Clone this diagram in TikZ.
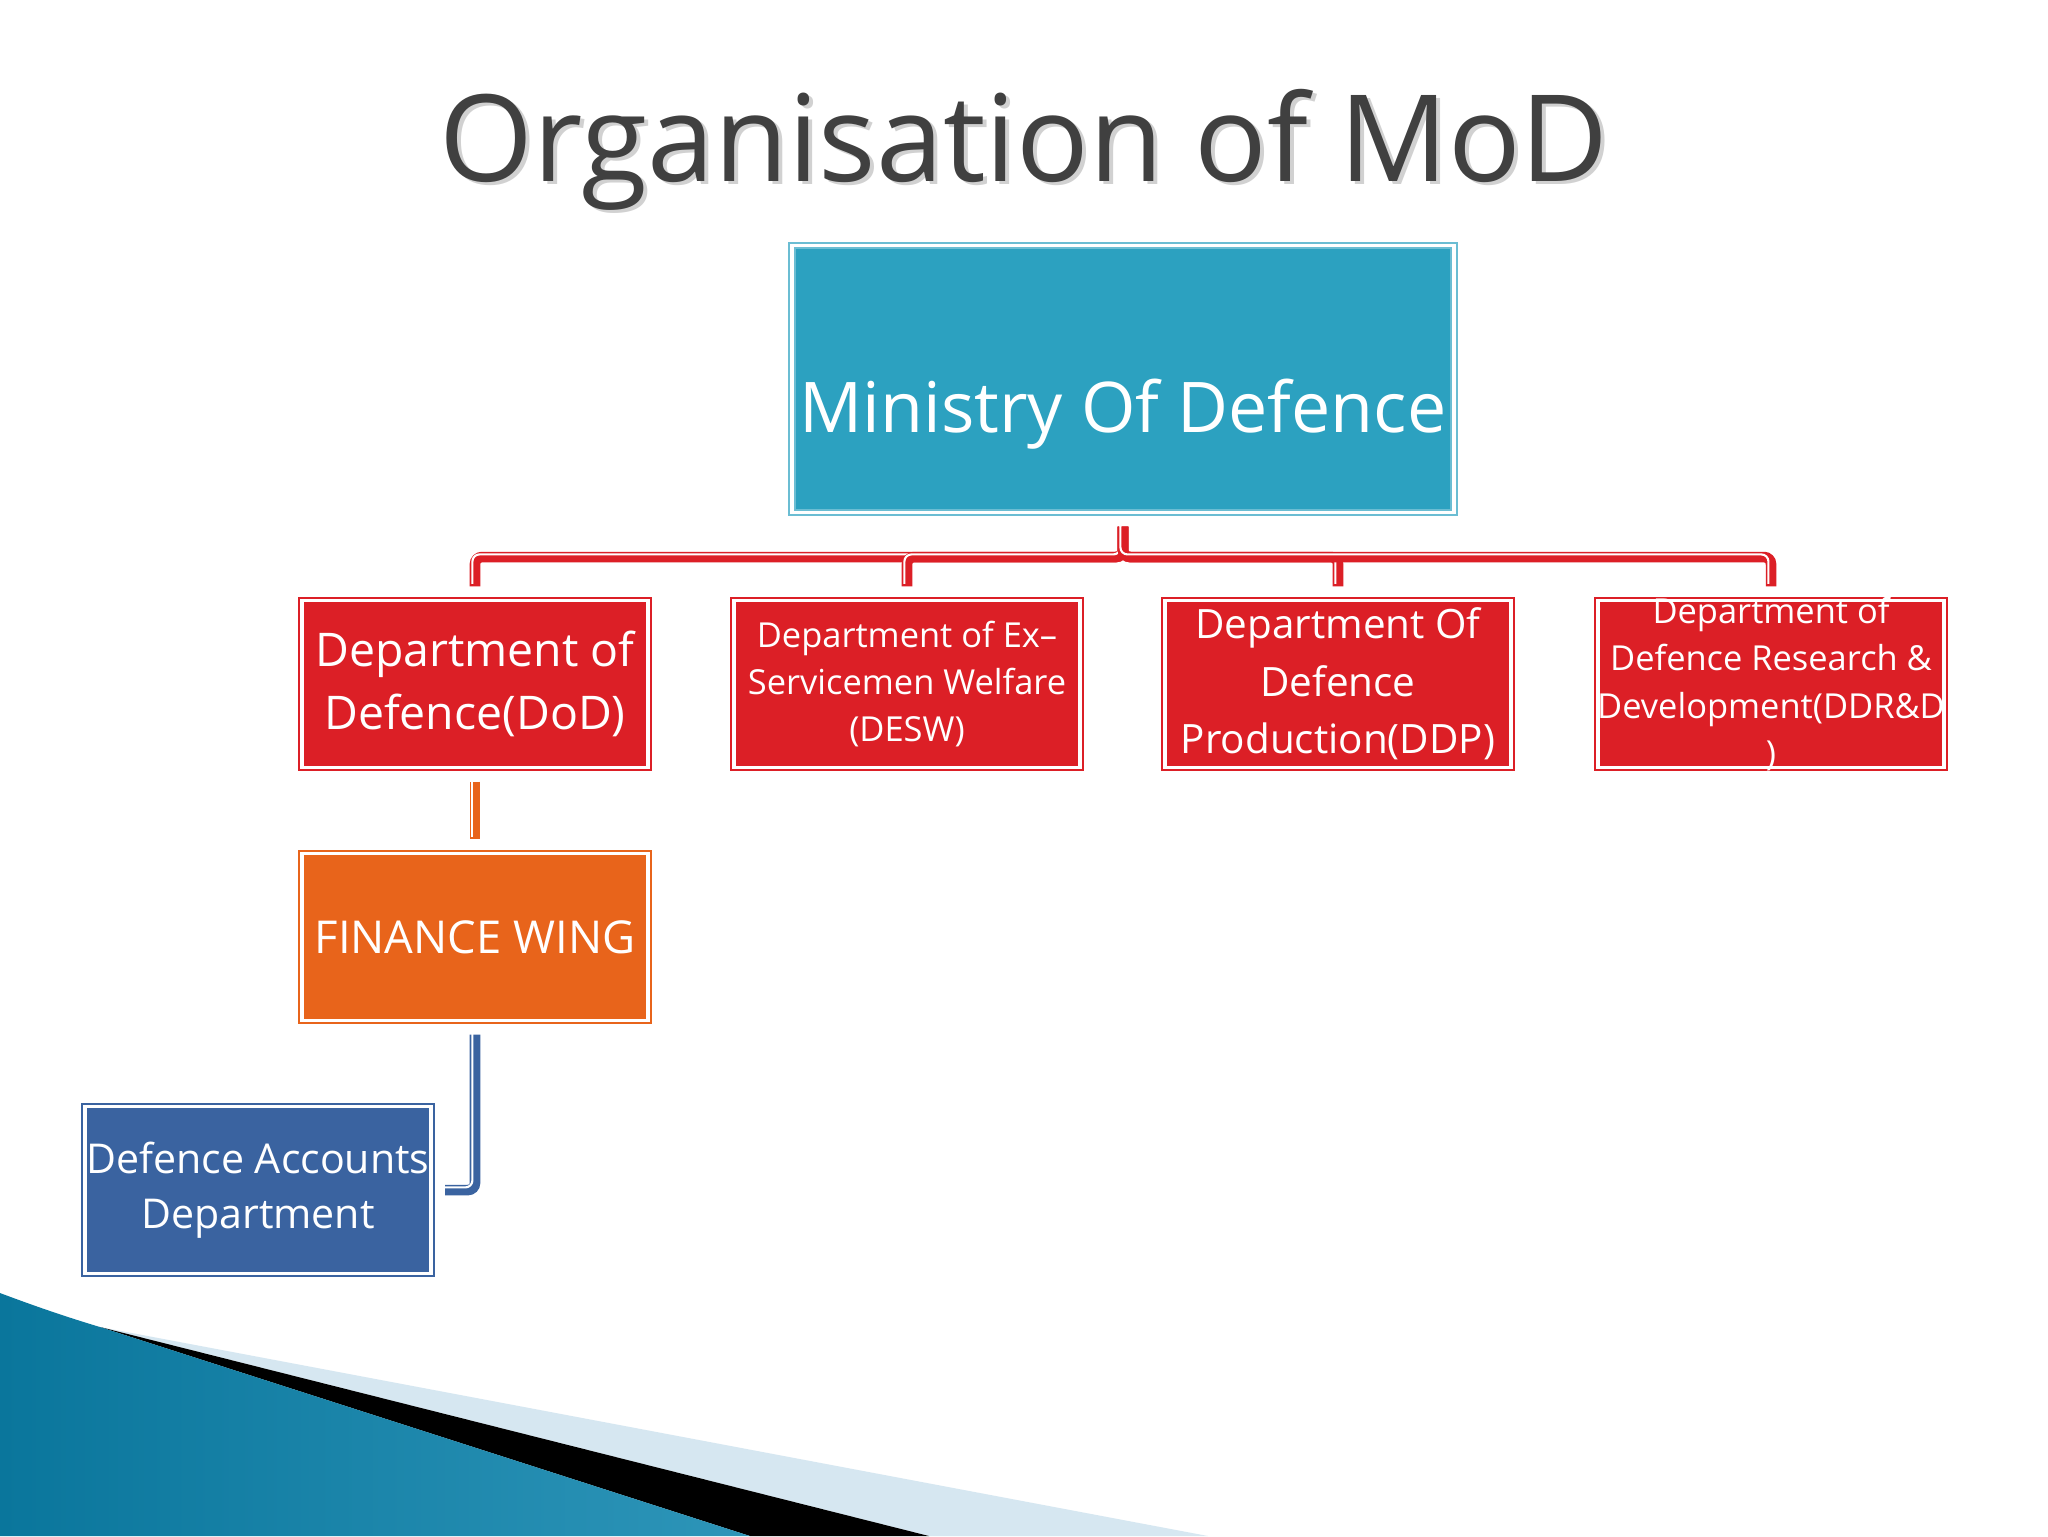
\documentclass[tikz,border=0pt]{standalone}
\usepackage{fontspec}
\setmainfont{Open Sans}
\usepackage{xcolor}
\usepackage{tikz}

\definecolor{modteal}{RGB}{44,161,192}
\definecolor{dodred}{RGB}{220,31,38}
\definecolor{finorange}{RGB}{232,100,27}
\definecolor{accblue}{RGB}{58,99,160}
\definecolor{wavedark}{RGB}{10,118,156}
\definecolor{wavelight}{RGB}{98,196,228}
\definecolor{wavepale}{RGB}{214,231,241}

\begin{document}
\begin{tikzpicture}[x=0.1mm, y=-0.1mm,
        box/.style={draw=#1, fill=#1, double=white, double distance=0.9pt, line width=0.6pt,
            text=white, inner sep=0pt, align=center, minimum width=34.6mm, minimum height=16.7mm},
        % thin-thick line: thick stroke with a white rule moved up and left
        link/.style={draw=#1, line width=3pt, rounded corners=2pt, shorten <=1.3mm, shorten >=1.3mm,
            postaction={draw=white, line width=0.6pt, transform canvas={shift={(-2.6,-2.6)}}}},
        fs/.style 2 args={font=\fontsize{#1}{#2}\selectfont}]
        \useasboundingbox[fill=white] (0,0) rectangle (2048,1536);
        % swoosh in the lower left corner
        \fill[wavepale] (100,1327) -- (1208,1536) -- (929,1536) -- cycle;
        \fill[black] (100,1327) -- (929,1536) -- (750,1536) -- cycle;
        \shade[left color=wavedark, middle color=wavelight, right color=wavedark!60!wavelight]
            (0,1293) .. controls (40,1308) and (70,1318) .. (100,1327) -- (750,1536) -- (0,1536) -- cycle;
        % title
        \node[fs={34.3pt}{40pt}, text=black!18, anchor=base] (titleshade) at (1028,184) {Organisation of MoD};
        \node[fs={34.3pt}{40pt}, text=black!75, anchor=base] (title) at (1024,181) {Organisation of MoD};
        % boxes
        \node[box=modteal, draw=modteal!70!white, minimum width=66.2mm, minimum height=26.7mm, fs={19.9pt}{24pt}]
            (mod) at (1123,379) {\raisebox{-10pt}[\height][\depth]{Ministry Of Defence}};
        \node[box=dodred, fs={13.2pt}{17.8pt}] (dod) at (475,684) {Department of\\Defence(DoD)};
        \node[box=dodred, fs={9.8pt}{13.4pt}] (desw) at (907,684) {Department of Ex–\\Servicemen Welfare\\(DESW)};
        \node[box=dodred, fs={11.5pt}{16.4pt}] (ddp) at (1338,684) {Department Of\\Defence\\Production(DDP)};
        \node[box=dodred] (ddrd) at (1771,684) {};
        \node[fs={9.8pt}{13.4pt}, text=white, align=center] (ddrdtext) at (ddrd.center)
            {Department of\\Defence Research \&\\Development(DDR\&D\\)};
        \node[box=finorange, fs={12.9pt}{16pt}] (fin) at (475,937) {FINANCE WING};
        \node[box=accblue, fs={11.7pt}{15.6pt}] (dad) at (258,1190) {Defence Accounts\\Department};
        % connectors
        \coordinate (bus) at (1123,557);
        \foreach \child in {dod,desw,ddp,ddrd}
            \draw[link=dodred] (mod.south) -- (bus) -| (\child.north);
        \draw[link=finorange] (dod) -- (fin);
        \draw[link=accblue] (fin.south) |- (dad.east);
    \end{tikzpicture}
\end{document}
